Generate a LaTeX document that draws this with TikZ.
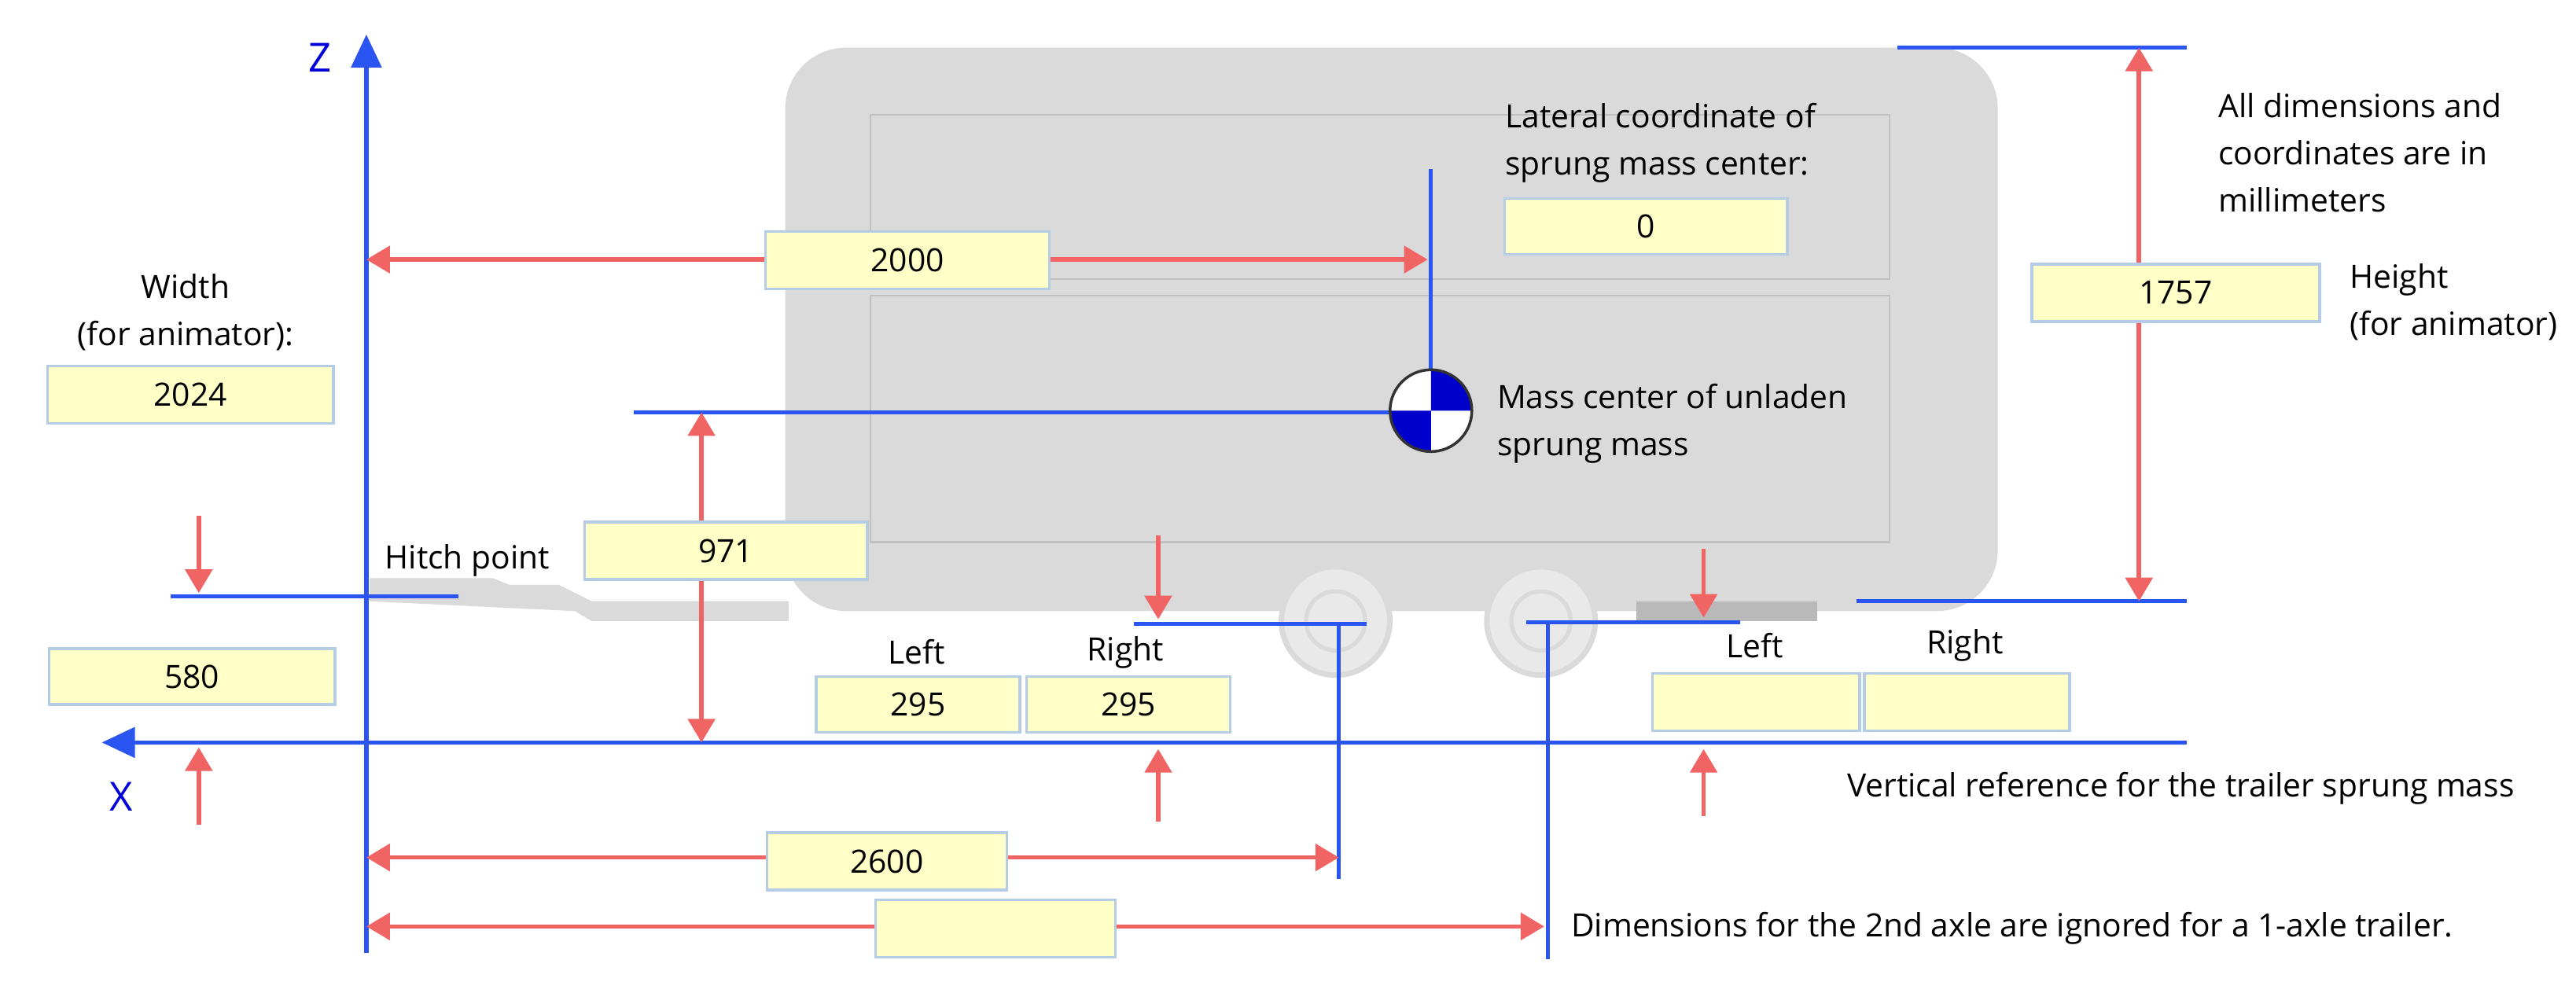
\documentclass[tikz,border=0pt]{standalone}
\usepackage{fontspec}
\setmainfont{Open Sans}
\usetikzlibrary{arrows.meta}
\definecolor{dimred}{HTML}{F06464}
\definecolor{axblue}{HTML}{2A55F0}
\definecolor{boxfill}{HTML}{FFFFC8}
\definecolor{boxline}{HTML}{B4CCE4}
\definecolor{body}{HTML}{DADADA}
\tikzset{
  dim/.style={dimred,line width=1.6pt,-{Triangle[length=3mm,width=3.4mm]}},
  ddim/.style={dimred,line width=1.6pt,{Triangle[length=3mm,width=3.4mm]}-{Triangle[length=3mm,width=3.4mm]}},
  ref/.style={axblue,line width=1.4pt},
  vbox/.style={draw=boxline,fill=boxfill,line width=1pt,inner sep=0pt,anchor=north west},
  lbl/.style={font=\fontsize{11.6}{17}\selectfont,inner sep=0pt},
  axlbl/.style={inner sep=0pt,text=blue!85!black,font=\fontsize{14.5}{16}\selectfont}
}
\begin{document}
\begin{tikzpicture}[x=0.02089cm,y=-0.02089cm]
\useasboundingbox[fill=white] (0,0) rectangle (1568,610.8);
% trailer silhouette
\fill[body,rounded corners=22] (478,29) rectangle (1216,372);
\draw[body!88!black,line width=0.6pt] (530,70) rectangle (1150,170) (530,180) rectangle (1150,330);
\fill[body] (225,352) -- (300,352) -- (310,356) -- (340,356) -- (360,366) -- (480,366) -- (480,378) -- (360,378) -- (350,372) -- (225,366) -- cycle;
\fill[body!85!black] (996,366) rectangle (1106,378);
\foreach \cx in {813,938}{\fill[body!60!white] (\cx,378) circle (33);\draw[body,line width=2pt] (\cx,378) circle (33);\draw[body,line width=1.5pt] (\cx,378) circle (18);}
% axes
\coordinate (zb) at (223,580); \coordinate (zt) at (223,21);
\draw[axblue,line width=1.6pt,-{Triangle[length=4.2mm,width=3.8mm]}] (zb) -- (zt);
\node[axlbl] (zl) at (195,35) {Z};
\coordinate (xr) at (1331,452); \coordinate (xl) at (62,452);
\draw[axblue,line width=1.6pt,-{Triangle[length=4.2mm,width=3.8mm]}] (xr) -- (xl);
\node[axlbl] (xlab) at (74,485) {X};
% mass center
\coordinate (mc) at (871,250);
\draw[ref] (871,103) -- (mc);
\draw[ref] (386,251) -- (848,251);
\begin{scope}[shift={(mc)},x=1cm,y=1cm]
\fill[white] (0,0) circle (0.52);
\fill[blue!80!black] (0,0) -- (0,0.52) arc[start angle=90,end angle=0,radius=0.52] -- cycle;
\fill[blue!80!black] (0,0) -- (0,-0.52) arc[start angle=270,end angle=180,radius=0.52] -- cycle;
\draw[black!80,line width=1pt] (0,0) circle (0.52);
\end{scope}
\node[lbl,anchor=west,align=left] (mct) at (911,258) {Mass center of unladen\\sprung mass};
% 2000
\coordinate (a1) at (223,158); \coordinate (a2) at (869,158);
\draw[ddim] (a1) -- (a2);
\node[vbox,minimum width=173*0.02089cm,minimum height=35*0.02089cm] (b2000) at (465,140) {};
\node[lbl] at (b2000.center) {2000};
% lateral
\node[lbl,anchor=west,align=left] (lat) at (916,87) {Lateral coordinate of\\sprung mass center:};
\node[vbox,minimum width=172*0.02089cm,minimum height=34*0.02089cm] (b0) at (915,120) {};
\node[lbl] at (b0.center) {0};
% 971
\coordinate (c1) at (427,251); \coordinate (c2) at (427,452);
\draw[ddim] (c1) -- (c2);
\node[vbox,minimum width=172*0.02089cm,minimum height=35*0.02089cm] (b971) at (355,317) {};
\node[lbl] at (b971.center) {971};
% hitch
\draw[ref] (104,363) -- (279,363);
\node[lbl,anchor=west] (hp) at (234,341) {Hitch point};
\draw[dim] (121,314) -- (121,361);
\draw[dim] (121,502) -- (121,455);
\node[vbox,minimum width=174*0.02089cm,minimum height=34*0.02089cm] (b580) at (29,394) {};
\node[lbl] at (b580.center) {580};
% width
\node[lbl,align=center] (wl) at (113,190) {Width\\(for animator):};
\node[vbox,minimum width=174*0.02089cm,minimum height=35*0.02089cm] (b2024) at (28,222) {};
\node[lbl] at (b2024.center) {2024};
% axle 1
\draw[ref] (690,380) -- (832,380);
\draw[ref] (815,380) -- (815,535);
\draw[dim] (705,326) -- (705,377);
\draw[dim] (705,500) -- (705,456);
\node[lbl] (l1) at (558,397) {Left};
\node[lbl] (r1) at (685,397) {Right};
\node[vbox,minimum width=124*0.02089cm,minimum height=34*0.02089cm] (bl1) at (496,411) {};
\node[lbl] at (bl1.center) {295};
\node[vbox,minimum width=124*0.02089cm,minimum height=34*0.02089cm] (br1) at (624,411) {};
\node[lbl] at (br1.center) {295};
% axle 2
\draw[ref] (929,379) -- (1059,379);
\draw[ref] (942,379) -- (942,584);
\draw[dim] (1037,334) -- (1037,376);
\draw[dim] (1037,497) -- (1037,456);
\node[lbl] (l2) at (1068,393) {Left};
\node[lbl] (r2) at (1196,393) {Right};
\node[vbox,minimum width=126*0.02089cm,minimum height=35*0.02089cm] (bl2) at (1005,409) {};
\node[vbox,minimum width=125*0.02089cm,minimum height=35*0.02089cm] (br2) at (1134,409) {};
% height
\draw[ref] (1155,29) -- (1331,29);
\draw[ref] (1130,366) -- (1331,366);
\draw[ddim] (1302,29) -- (1302,366);
\node[vbox,minimum width=175*0.02089cm,minimum height=35*0.02089cm] (b1757) at (1236,160) {};
\node[lbl] at (b1757.center) {1757};
\node[lbl,anchor=west,align=left] (hl) at (1430,184) {Height\\(for animator)};
\node[lbl,anchor=west,align=left] (note) at (1350,93) {All dimensions and\\coordinates are in\\millimeters};
\node[lbl,anchor=west] (vr) at (1124,480) {Vertical reference for the trailer sprung mass};
% 2600
\draw[ddim] (223,522) -- (815,522);
\node[vbox,minimum width=146*0.02089cm,minimum height=35*0.02089cm] (b2600) at (466,506) {};
\node[lbl] at (b2600.center) {2600};
% 2nd axle
\draw[ddim] (223,564) -- (940,564);
\node[vbox,minimum width=146*0.02089cm,minimum height=35*0.02089cm] (bx) at (532,547) {};
\node[lbl,anchor=west] (dn) at (956,565) {Dimensions for the 2nd axle are ignored for a 1-axle trailer.};
\end{tikzpicture}
\end{document}
